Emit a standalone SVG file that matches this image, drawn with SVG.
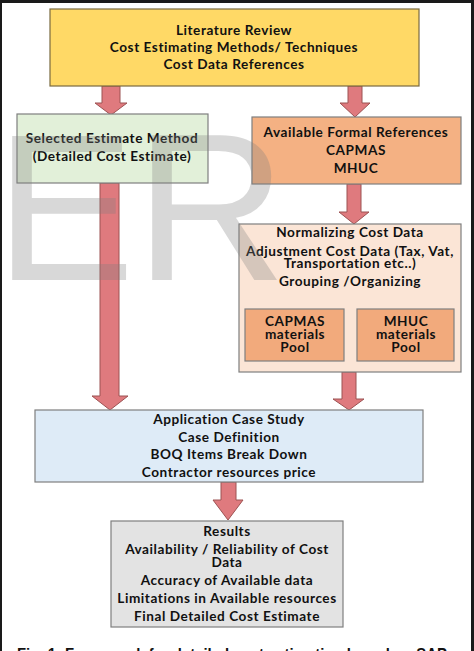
<svg xmlns="http://www.w3.org/2000/svg" width="474" height="651" viewBox="0 0 474 651">
<style>
.t{font-family:Lato,"Liberation Sans",Arial,sans-serif;font-weight:700;font-size:13.6px;letter-spacing:0.55px;fill:#111;text-anchor:middle}
.box{stroke:#7f7f7f;stroke-width:1.2}
.arr{fill:#DF7A7E;stroke:#9c5252;stroke-width:1}
</style>
<rect x="0" y="0" width="474" height="651" fill="#1a1a1a"/>
<rect x="2" y="3" width="469" height="648" fill="#ffffff"/>
<g id="connectors">
<path class="arr" d="M102,86 H120 V103 H127 L111,115 L95,103 H102 Z"/>
<path class="arr" d="M348,86 H362 V103 H370 L355,117 L340,103 H348 Z"/>
<path class="arr" d="M347,184 H361 V212 H369 L354,224 L339,212 H347 Z"/>
<path class="arr" d="M100,183 H119 V396 H128 L110,410 L92,396 H100 Z"/>
<path class="arr" d="M342,372 H356 V399 H364 L349,410 L333,399 H342 Z"/>
<path class="arr" d="M221,482 H236 V500 H243 L228,520 L213,500 H221 Z"/>
</g>
<g id="literature">
<rect x="50" y="9" width="369" height="77" fill="#FFD966" stroke="#7a6a40" stroke-width="1.2"/>
<text class="t" x="234" y="35">Literature Review</text>
<text class="t" x="234" y="52">Cost Estimating Methods/ Techniques</text>
<text class="t" x="234" y="69">Cost Data References</text>
</g>
<g id="selected">
<rect class="box" x="17" y="114" width="191" height="69" fill="#E2F0D9"/>
<text class="t" x="112" y="143">Selected Estimate Method</text>
<text class="t" x="112" y="161">(Detailed Cost Estimate)</text>
</g>
<g id="formal">
<rect class="box" x="252" y="117" width="209" height="67" fill="#F4B183"/>
<text class="t" x="356" y="137">Available Formal References</text>
<text class="t" x="356" y="155">CAPMAS</text>
<text class="t" x="356" y="173">MHUC</text>
</g>
<g id="normalizing">
<rect class="box" x="239" y="224" width="222" height="148" fill="#FBE5D6"/>
<text class="t" x="350" y="237">Normalizing Cost Data</text>
<text class="t" x="350" y="256">Adjustment Cost Data (Tax, Vat,</text>
<text class="t" x="350" y="268">Transportation etc..)</text>
<text class="t" x="350" y="286">Grouping /Organizing</text>
</g>
<g id="capmas-pool">
<rect class="box" x="245" y="309" width="99" height="52" fill="#F2AA7C"/>
<text class="t" x="295" y="326">CAPMAS</text>
<text class="t" x="295" y="339">materials</text>
<text class="t" x="295" y="352">Pool</text>
</g>
<g id="mhuc-pool">
<rect class="box" x="357" y="309" width="97" height="52" fill="#F2AA7C"/>
<text class="t" x="406" y="326">MHUC</text>
<text class="t" x="406" y="339">materials</text>
<text class="t" x="406" y="352">Pool</text>
</g>
<g id="application">
<rect class="box" x="35" y="410" width="388" height="72" fill="#DEEBF7"/>
<text class="t" x="229" y="424">Application Case Study</text>
<text class="t" x="229" y="442">Case Definition</text>
<text class="t" x="229" y="459">BOQ Items Break Down</text>
<text class="t" x="229" y="477">Contractor resources price</text>
</g>
<g id="results">
<rect class="box" x="111" y="521" width="232" height="106" fill="#E3E3E3"/>
<text class="t" x="227" y="536">Results</text>
<text class="t" x="227" y="554">Availability / Reliability of Cost</text>
<text class="t" x="227" y="567">Data</text>
<text class="t" x="227" y="585">Accuracy of Available data</text>
<text class="t" x="227" y="603">Limitations in Available resources</text>
<text class="t" x="227" y="621">Final Detailed Cost Estimate</text>
</g>
<text x="-5" y="280" font-family="Liberation Sans, Arial, sans-serif" font-size="210" fill="#7f7f7f" fill-opacity="0.3">ER</text>
<text x="17" y="660" font-family="Liberation Sans, Arial, sans-serif" font-size="16.5" font-weight="700" fill="#111" textLength="430" lengthAdjust="spacingAndGlyphs">Fig. 1: Framework for detailed cost estimation based on SAP</text>
</svg>
